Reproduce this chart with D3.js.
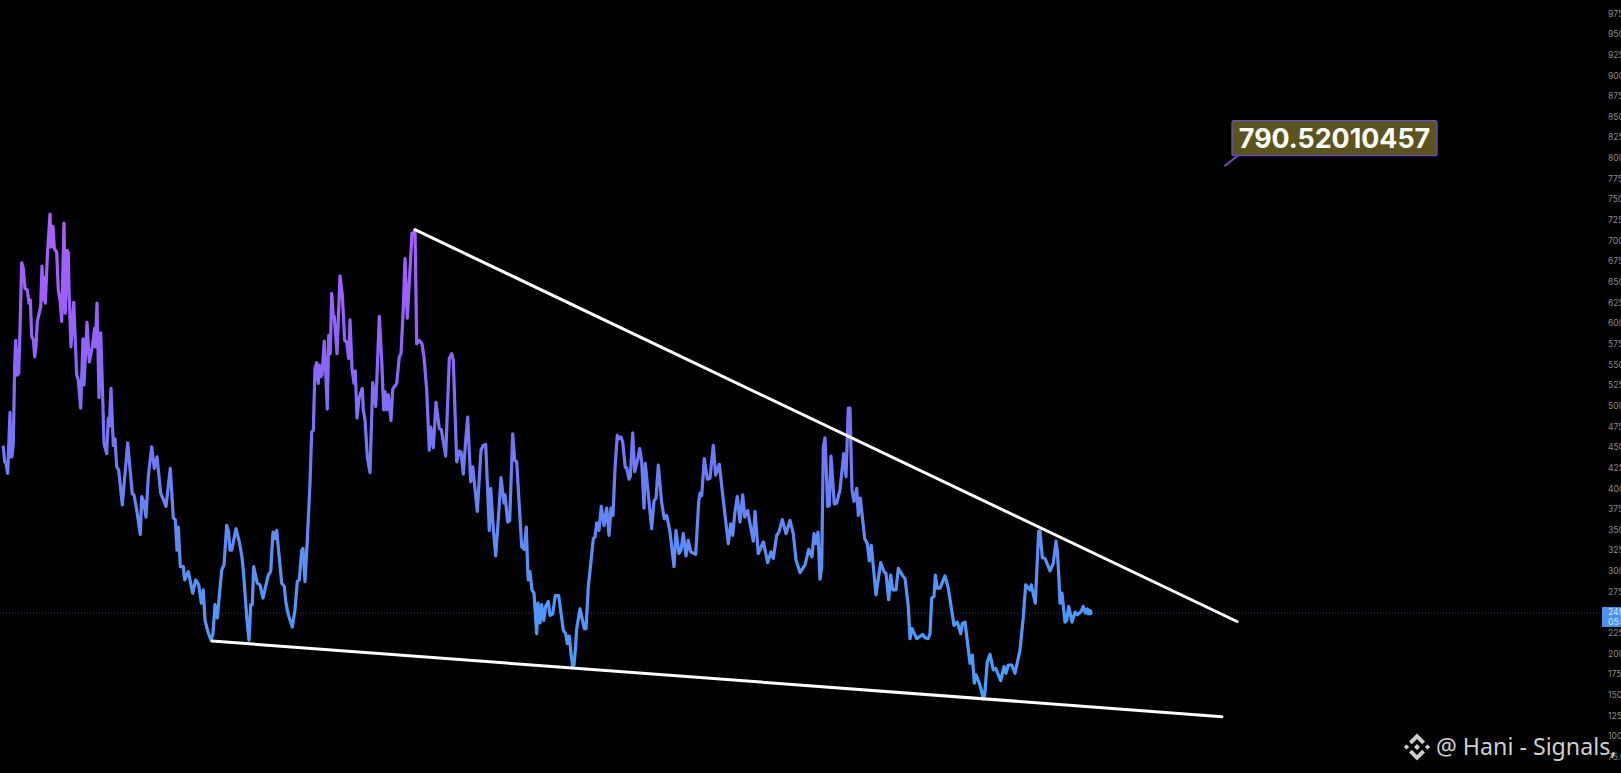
<!DOCTYPE html>
<html>
<head>
<meta charset="utf-8">
<script src="https://cdn.jsdelivr.net/npm/d3@7/dist/d3.min.js"></script>
<style>
html,body{margin:0;padding:0;background:#000;overflow:hidden}
svg{display:block}
</style>
</head>
<body>
<div id="chart"></div>
<script>
// [bar, price]
const pricePoints = [
[3.3,450],[4.7,432],[6,430],[7.7,418],[10,492],[11,438],[12,438],[13.3,454],[14.7,551],[15.7,579],[17.3,537],[18.7,539],[20,592],[21.7,673],[23.3,666],[25,642],[27.3,640],[29,624],[30.3,628],[31.7,584],[33.3,580],[34.7,559],[36,571],[37.3,602],[40.7,620],[42,669],[43.3,628],[44.3,655],[45.3,624],[47.3,680],[50,732],[51,692],[53,717],[54.3,690],[56.7,686],[58.3,640],[60,628],[61.7,602],[64,721],[65.3,612],[67,688],[68.3,685],[69,640],[71,571],[73.7,625],[76.7,537],[78.3,531],[80.7,497],[83,581],[84,525],[87,601],[89.3,553],[92,569],[94.7,594],[95.3,571],[97,624],[99,510],[100.7,588],[102.7,511],[104,454],[106.7,442],[108.3,485],[109.3,475],[111,521],[113.3,452],[115,460],[116.7,426],[118.7,422],[122.3,380],[127.7,455],[132.3,393],[134,392],[136.7,374],[140.3,344],[141.7,390],[143.7,384],[146,365],[148.3,414],[151.7,450],[154.3,424],[157,438],[160.7,394],[166,378],[170.3,424],[173.3,364],[175.3,362],[177,325],[178.3,353],[180.3,305],[183.3,305],[184.7,289],[188.3,299],[192.7,273],[195.7,289],[198.7,283],[201.3,261],[203.3,277],
[205,240],[208,226],[211,216],[213,224],[215,259],[217.3,243],[221.7,301],[224,307],[226.7,355],[228.3,349],[230,325],[231.7,325],[236,351],[239.3,335],[241.7,319],[243.3,301],[247,240],[249,216],[250.7,259],[252.3,259],[253.7,305],[257.3,285],[260,283],[263,267],[268.3,295],[270.7,299],[273,347],[275,339],[276.7,349],[281.7,285],[284.3,281],[286,261],[288.3,247],[292.3,232],[295,253],[297.3,287],[299.3,289],[301.7,325],[303,327],[305,287],[307.3,337],[310,406],[311.7,468],[313.3,470],[315,545],[316.7,552],[318.3,527],[319.3,549],[320.7,535],[322,537],[324.3,578],[327.3,496],[328.7,585],[330.3,563],[331.7,636],[333.3,608],[334.3,608],[337,563],[340,657],[342.3,634],[344.7,579],[346.7,577],[348.7,557],[350,604],[352,545],[354,527],[355.3,542],[357,485],[359,509],[362.3,521],[363.3,495],[365,483],[367.3,438],[370,419],[372.7,528],[375.7,499],[376.7,527],[379.3,608],[381.7,555],[383.7,495],[385,517],[386.7,495],[388.3,513],[391,482],[392.7,520],[396.7,527],[399.3,559],[401,563],[403.3,618],[405,678],[407.3,606],[410,664],[412,709],[413.3,709],[415,713],
[416.7,575],[419.3,579],[422,575],[424,559],[426.7,519],[429.3,446],[430.7,474],[433.3,449],[436,504],[439.3,472],[441.3,471],[445.7,439],[449.3,557],[451.7,563],[453.3,555],[456.7,432],[459.3,445],[461,444],[463.3,417],[465.7,458],[467.7,486],[470.7,408],[472.7,426],[477.3,372],[481,446],[483.3,452],[485.7,453],[489.3,349],[490.7,400],[493.3,351],[495.7,318],[498.3,362],[501,413],[504,382],[505,392],[507.7,359],[509.7,361],[512.7,466],[514.7,434],[516.7,432],[521.7,329],[524.3,326],[526.3,353],[527.7,301],[528.3,289],[530,299],[532,277],[534,273],[536.7,224],[538,261],[540,237],[541.7,259],[543.7,240],[545.7,257],[548.3,263],[550,246],[552.7,248],[555.3,270],[558.7,270],[563.3,228],[565.7,224],[567.3,212],[569.3,221],[571,200],[572.7,184],[574,186],[575.3,204],[576.7,230],[580,254],[584.3,230],[586,230],[588.3,281],[591.3,315],[593.3,339],[595,341],[596.7,358],[599,349],[601.3,378],[604,355],[606.7,376],[609,343],[611,376],[613,367],[615,424],[617.3,464],
[619.3,460],[621,462],[622.7,456],[625.3,425],[626.7,425],[629,411],[630.3,414],[632.7,467],[634.7,420],[637.7,435],[639.7,448],[641.7,432],[644,376],[645.3,430],[649,384],[651.7,351],[654,385],[656,388],[658.3,428],[661.7,382],[664.3,363],[666.7,367],[670,347],[674,305],[676,349],[679,321],[681,325],[683.3,345],[686,318],[688.3,337],[690.7,323],[695.7,320],[698.7,384],[700,394],[701.7,391],[704.3,436],[707.3,411],[710,412],[713.3,452],[715.7,416],[719.3,429],[723.3,386],[728.3,333],[730.7,357],[732.7,343],[735,372],[737.3,390],[740,359],[742.7,392],[744.7,365],[747.7,373],[750,357],[753.3,336],[755,372],[758.3,321],[763.3,335],[767.7,310],[771,323],[773.3,315],[776.7,343],[779,347],[782.3,362],[786,345],[790,361],
[793.3,345],[796,313],[800,298],[805,307],[808.7,326],[812,317],[814,345],[816,333],[818,347],[820,290],[821.7,305],[823.3,450],[825,461],[827.7,378],[829.3,379],[831,439],[834.3,381],[836.7,382],[840,398],[843.7,442],[846,414],[848.3,497],[850,497],[852,398],[854,384],[856.7,400],[858.3,367],[860.3,388],[864.7,339],[867.3,333],[869.3,312],[871.3,331],[876,271],[880.7,310],[884,299],[886,297],[888.7,265],[890.7,295],[892.7,277],[896,277],[898.3,303],[903.3,293],[905,291],[908.3,257],[910,218],[912,230],[916.7,218],[922.7,223],[925,219],[928.3,218],[930,224],
[931.7,267],[934,269],[935.3,295],[937.3,279],[940,279],[945,294],[948.3,279],[954,234],[957.3,238],[960.7,224],[962.3,236],[965,238],[970,188],[972.3,198],[974.3,164],[976,174],[979,165],[981.5,155],[983.3,145],[984.7,150],[987.3,190],[990,199],[993.3,180],[995.7,182],[1000.7,167],[1004,184],[1006,176],[1008.3,186],[1011.7,186],[1015,176],[1020,204],[1023.3,244],[1025.7,283],[1030,277],[1031.3,283],[1035.3,261],[1038.7,348],[1040,348],[1042.3,316],[1045,315],[1050,300],[1053.3,309],[1056,336],[1057.3,325],[1059,289],[1060,261],[1062,273],[1065,238],[1066.7,240],[1068.7,257],[1072,238],[1075,250],[1077.3,247],[1080.7,250],[1083.3,257],[1085.3,249],[1087.3,254],[1089.3,250]
];
const upperTrend = [[415,713],[1237,238.7]];
const lowerTrend = [[212,215],[1222,123.5]];
const priceTicks = [975,950,925,900,875,850,825,800,775,750,725,700,675,650,625,600,575,550,525,500,475,450,425,400,375,350,325,300,275,225,200,175,150,125,100,75];
const lastPrice = 249;
const tagLines = ["249","05:"];
const noteAnchor = [1225,790.52010457];
const noteText = "790.52010457";
const watermark = "@ Hani - Signals,";

const W = 1621, H = 773;
const x = d3.scaleLinear().domain([0,W]).range([0,W]);
const y = d3.scaleLinear().domain([975,75]).range([13.3,756.7]);
const svg = d3.select("#chart").append("svg").attr("width",W).attr("height",H).style("background","#000");

const defs = svg.append("defs");
const grad = defs.append("linearGradient").attr("id","lineGrad").attr("gradientUnits","userSpaceOnUse")
  .attr("x1",0).attr("x2",0).attr("y1",y(730)).attr("y2",y(150));
[[0,"#ae5cff"],[0.28,"#9063fb"],[0.5,"#6f78f6"],[0.72,"#5a90f6"],[1,"#459fff"]].forEach(s=>
  grad.append("stop").attr("offset",s[0]).attr("stop-color",s[1]));

// price axis
const axis = d3.axisRight(y).tickValues(priceTicks).tickSize(0).tickPadding(0)
  .tickFormat(d=>d<100 ? d3.format(".1f")(d) : String(d));
const ag = svg.append("g").attr("transform","translate(1608,0)").call(axis);
ag.select(".domain").remove();
ag.selectAll("text").attr("fill","#8b8b8b").attr("font-family","Inter, Roboto, sans-serif").attr("font-size",8.6).attr("x",0);

// last price line
svg.append("line").attr("x1",0).attr("x2",1602).attr("y1",y(lastPrice)).attr("y2",y(lastPrice))
  .attr("stroke","#2f3a78").attr("stroke-width",1).attr("stroke-dasharray","1 2");

// series
const line = d3.line().x(d=>x(d[0])).y(d=>y(d[1]));
svg.append("path").datum(pricePoints).attr("d",line).attr("fill","none")
  .attr("stroke","url(#lineGrad)").attr("stroke-width",3.2).attr("stroke-linejoin","round").attr("stroke-linecap","round");
const lastPt = pricePoints[pricePoints.length-1];
svg.append("circle").attr("cx",x(lastPt[0])).attr("cy",y(lastPt[1])).attr("r",3.2).attr("fill","#4a9cff");

// trend lines
[upperTrend,lowerTrend].forEach(t=>svg.append("path").datum(t).attr("d",line).attr("fill","none")
  .attr("stroke","#fff").attr("stroke-width",3).attr("stroke-linecap","round"));

// last price tag
const tagY = y(lastPrice);
svg.append("rect").attr("x",1602).attr("y",tagY-6).attr("width",19).attr("height",20).attr("rx",1).attr("fill","#4b91ee");
tagLines.forEach((t,i)=>svg.append("text").attr("x",1608).attr("y",tagY+2+i*10).text(t)
  .attr("fill","#d6e6ff").attr("font-family","Inter, Roboto, sans-serif").attr("font-size",8.6));

// note
const ax = x(noteAnchor[0]), ay = y(noteAnchor[1]);
svg.append("line").attr("x1",ax).attr("y1",ay).attr("x2",ax+14).attr("y2",ay-11)
  .attr("stroke","#6a4fc0").attr("stroke-width",2).attr("stroke-linecap","round");
svg.append("rect").attr("x",ax+7).attr("y",ay-45).attr("width",205).attr("height",35).attr("rx",2)
  .attr("fill","#5c5420").attr("stroke","#6a4fc0").attr("stroke-width",1.3);
svg.append("text").attr("x",ax+109.5).attr("y",ay-17.5).attr("text-anchor","middle").text(noteText)
  .attr("fill","#fff").attr("font-family","Inter, Roboto, sans-serif").attr("font-weight",700).attr("font-size",26.8);

// watermark
const wm = svg.append("g").attr("transform","translate(1417,747)").attr("fill","#cfcfcf");
const diamond = (cx,cy,r)=>`M${cx},${cy-r}L${cx+r},${cy}L${cx},${cy+r}L${cx-r},${cy}Z`;
wm.append("path").attr("d",diamond(0,0,3)+diamond(-10.5,0,2.6)+diamond(10.5,0,2.6));
wm.append("path").attr("d","M0,-13.5L8,-5.5L5.2,-2.8L0,-8L-5.2,-2.8L-8,-5.5Z M0,13.5L8,5.5L5.2,2.8L0,8L-5.2,2.8L-8,5.5Z");
svg.append("text").attr("x",1436).attr("y",755).text(watermark)
  .attr("fill","#cfcfcf").attr("font-family","'Noto Sans', 'Open Sans', sans-serif").attr("font-size",23.2);
</script>
</body>
</html>
